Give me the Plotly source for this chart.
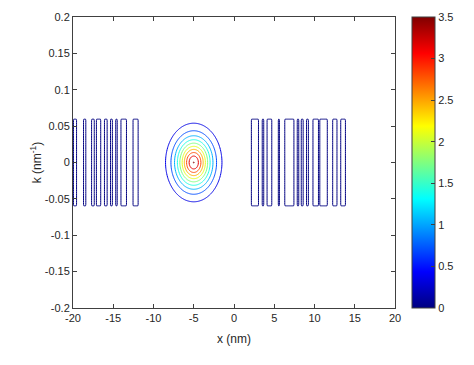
import numpy as np
import plotly.graph_objects as go

# ---- data ----
x_range = [-20, 20]
k_range = [-0.2, 0.2]
x_ticks = [-20, -15, -10, -5, 0, 5, 10, 15, 20]
k_ticks = [-0.2, -0.15, -0.1, -0.05, 0, 0.05, 0.1, 0.15, 0.2]
k_tick_labels = ["-0.2", "-0.15", "-0.1", "-0.05", "0", "0.05", "0.1", "0.15", "0.2"]
cbar_ticks = [0, 0.5, 1, 1.5, 2, 2.5, 3, 3.5]
cbar_tick_labels = ["0", "0.5", "1", "1.5", "2", "2.5", "3", "3.5"]

# central peak (packet) parameters
peak_x = -5.0
peak_k = 0.0
peak_height = 3.5
peak_width_x = 2.13
peak_width_k = 0.0328
peak_shape = 1.7

# residual oscillation band
band_half_k = 0.06
left_stripes = [(-19.95, -19.58), (-18.67, -18.42), (-17.67, -17.39), (-17.09, -16.59),
                (-16.06, -15.75), (-15.35, -15.10), (-14.69, -14.52), (-14.03, -13.36),
                (-12.54, -11.92)]
right_stripes = [(2.18, 3.01), (3.50, 3.70), (4.13, 4.67), (5.50, 5.65), (6.33, 7.45),
                 (7.87, 8.05), (8.40, 8.60), (9.03, 9.23), (9.85, 10.48), (10.68, 11.60),
                 (12.26, 12.76), (13.30, 13.85)]
stripe_value = -0.05
background_value = 0.01

contour_start = 0.0
contour_end = 3.5
contour_step = 0.35

# ---- grid ----
xg = np.linspace(x_range[0], x_range[1], 801)
kg = np.linspace(k_range[0], k_range[1], 161)
X, K = np.meshgrid(xg, kg)
R = np.sqrt(((X - peak_x) / peak_width_x) ** 2 + ((K - peak_k) / peak_width_k) ** 2)
Z = peak_height * np.exp(-R ** peak_shape) + background_value
in_band = np.abs(K) < band_half_k
for a, b in left_stripes + right_stripes:
    Z[in_band & (X > a) & (X < b)] += stripe_value - background_value

jet = [[0.0, "rgb(0,0,128)"], [0.125, "rgb(0,0,255)"], [0.375, "rgb(0,255,255)"],
       [0.625, "rgb(255,255,0)"], [0.875, "rgb(255,0,0)"], [1.0, "rgb(128,0,0)"]]

fig = go.Figure()
fig.add_trace(go.Contour(
    x=xg, y=kg, z=Z,
    colorscale=jet, zmin=0, zmax=3.5, zauto=False,
    contours=dict(coloring="lines", start=contour_start, end=contour_end, size=contour_step),
    line=dict(width=1.0),
    showscale=False, hoverinfo="skip",
))

# colorbar carrier
fig.add_trace(go.Scatter(
    x=[peak_x], y=[peak_k], mode="markers",
    marker=dict(size=0.1, opacity=0, color=[0], colorscale=jet, cmin=0, cmax=3.5,
                showscale=True,
                colorbar=dict(x=1.052, xanchor="left", y=0.5, yanchor="middle", len=1.0,
                              lenmode="fraction", thickness=23, thicknessmode="pixels",
                              outlinecolor="#404040", outlinewidth=1,
                              tickvals=cbar_ticks, ticktext=cbar_tick_labels,
                              ticks="inside", ticklen=4, tickcolor="#404040",
                              tickfont=dict(size=11, color="#262626", family="Liberation Sans"),
                              xpad=0, ypad=0)),
    hoverinfo="skip", showlegend=False,
))

axis_common = dict(showgrid=False, zeroline=False, showline=True, linecolor="#404040",
                   linewidth=1, mirror="ticks", ticks="inside", ticklen=4,
                   tickcolor="#404040", tickfont=dict(size=11, color="#262626",
                                                      family="Liberation Sans"))
fig.update_xaxes(range=x_range, tickvals=x_ticks, ticktext=[str(v) for v in x_ticks],
                 title=dict(text="x (nm)", font=dict(size=12, color="#262626",
                                                     family="Liberation Sans"), standoff=11),
                 **axis_common)
fig.update_yaxes(range=k_range, tickvals=k_ticks, ticktext=k_tick_labels,
                 title=dict(text="k (nm<sup>-1</sup>)", font=dict(size=12, color="#262626",
                                                                  family="Liberation Sans"),
                            standoff=0),
                 **axis_common)
# page body adds an 8 px offset, so the figure is sized and placed to compensate
fig.update_layout(width=458, height=349,
                  margin=dict(l=65, r=71, t=9, b=49, autoexpand=False),
                  paper_bgcolor="white", plot_bgcolor="white", showlegend=False)
fig.write_html("out.html")
